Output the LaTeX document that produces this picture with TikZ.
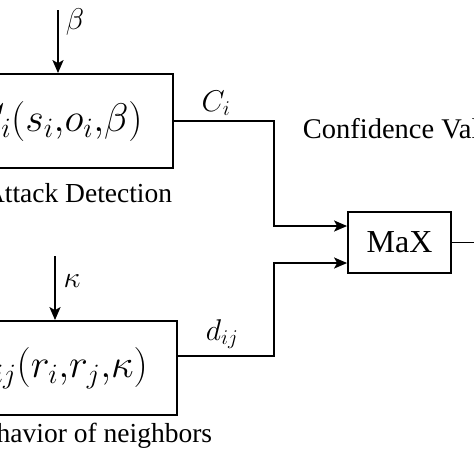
\RequirePackage{fix-cm}
\documentclass[tikz,border=0pt]{standalone}
\usepackage{fontspec}
\setmainfont{Liberation Serif}
\usetikzlibrary{arrows.meta}

\begin{document}
\begin{tikzpicture}[x=1pt,y=-1pt,line width=1.8pt,
    block/.style={draw, rectangle, inner sep=0pt},
    sig/.style={-{Stealth[length=13pt,width=11pt,inset=3pt]}},
    lbl/.style={inner sep=0pt, font=\fontsize{30}{32}\selectfont}]
        \clip (0,0) rectangle (474,474);
        %blocks
        \node[block, minimum width=230pt, minimum height=94pt,
          font=\fontsize{40}{44}\selectfont] (det) at (58,121) {$C_i(s_i{,}o_i{,}\beta)$};
        \node[block, minimum width=242pt, minimum height=94pt,
          font=\fontsize{40}{44}\selectfont] (nb) at (56,368) {$B_{ij}(r_i{,}r_j{,}\kappa)$};
        \node[block, minimum width=103pt, minimum height=61pt,
          font=\fontsize{32}{34}\selectfont] (max) at (399.5,242.5) {MaX};
        %inputs
        \coordinate (beta) at (58,10);
        \coordinate (kappa) at (55,256);
        \draw[sig] (beta) -- (beta |- det.north);
        \draw[sig] (kappa) -- (kappa |- nb.north);
        \node[lbl] (lbeta) at (75,22) {$\beta$};
        \node[lbl] (lkappa) at (72,281) {$\kappa$};
        %outputs to max
        \draw[sig] (det.east) -- ++(100,0) |- ([yshift=16.5pt]max.west);
        \draw[sig] ([yshift=12pt]nb.east) -- ++(96,0) |- ([yshift=-20.5pt]max.west);
        \draw (max.east) -- ++(40,0);
        \node[lbl] (lc) at (216,103) {$C_i$};
        \node[lbl] (ld) at (222,334) {$d_{ij}$};
        %captions
        \node[inner sep=0pt, anchor=base west, font=\fontsize{28.5}{30}\selectfont]
          (conf) at (302,138) {Confidence Value};
        \node[inner sep=0pt, anchor=base east, font=\fontsize{27.5}{29}\selectfont]
          (cap1) at (173,202) {Attack Detection};
        \node[inner sep=0pt, anchor=base east, font=\fontsize{27.5}{29}\selectfont]
          (cap2) at (213,442) {Behavior of neighbors};
\end{tikzpicture}
\end{document}
